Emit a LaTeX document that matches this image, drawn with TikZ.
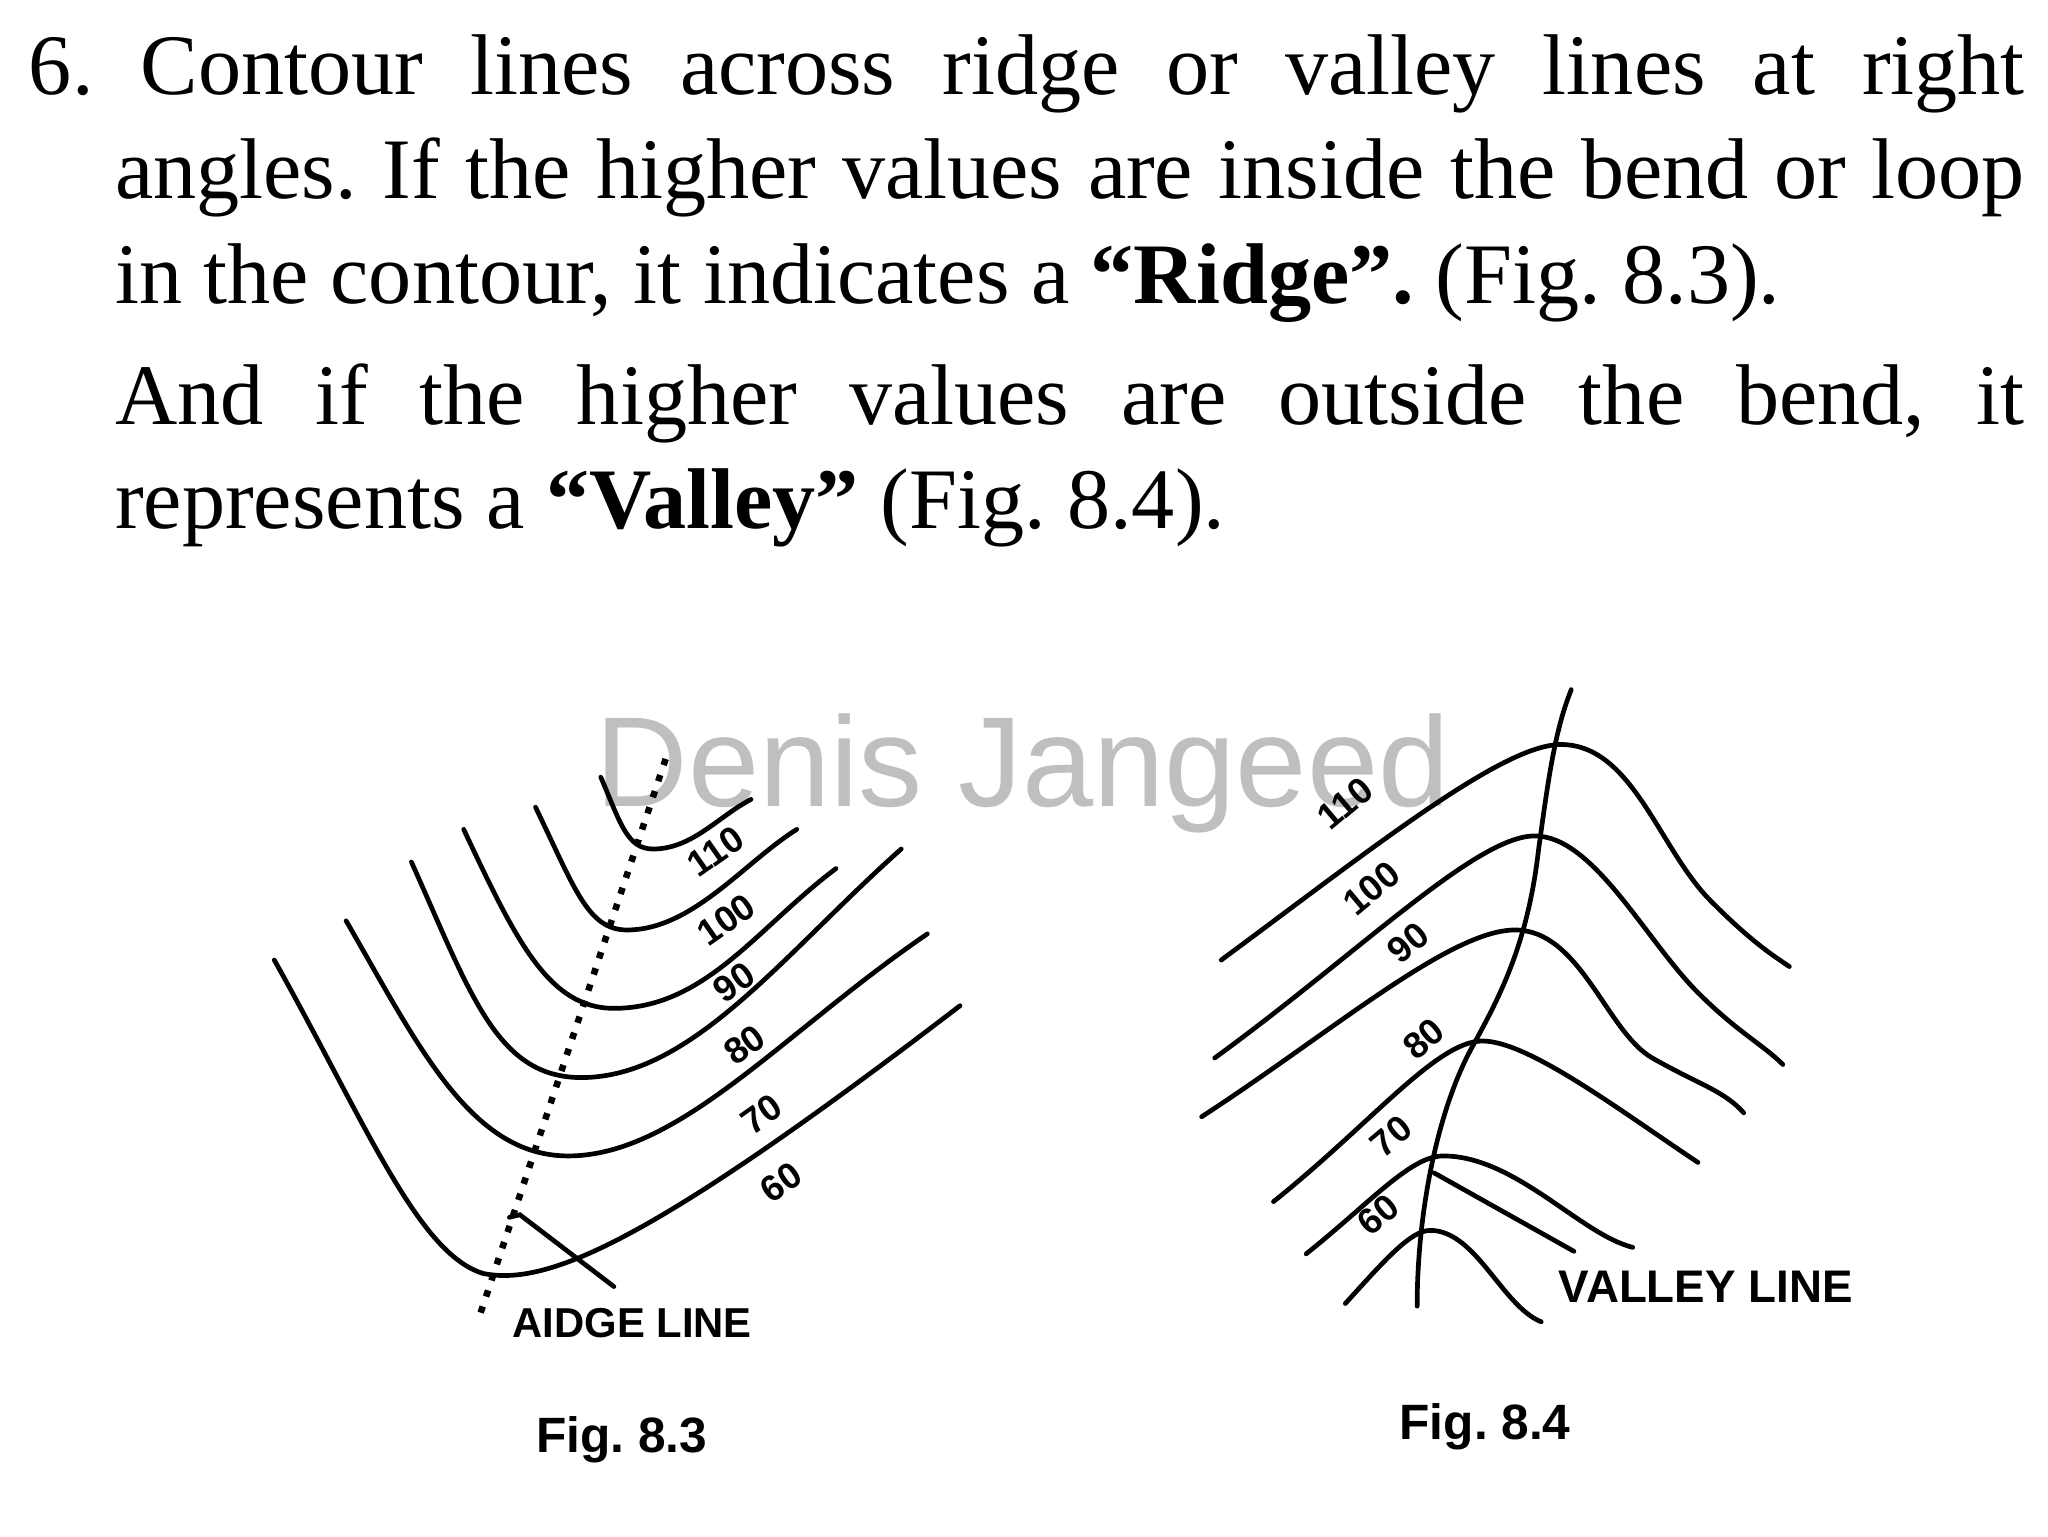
\documentclass[tikz,border=0pt]{standalone}
\usepackage{fontspec}
\setmainfont{Liberation Serif}
\setsansfont{Liberation Sans}
\frenchspacing
\begin{document}
\begin{tikzpicture}[x=1pt,y=-1pt,
  cl/.style={line width=3.6pt,line cap=round},
  lab/.style={font=\sffamily\bfseries\fontsize{28}{28}\selectfont,inner sep=0pt},
  tl/.style={anchor=base west,inner sep=0pt,font=\fontsize{66}{66}\selectfont}]
\useasboundingbox (0,0) rectangle (1568,1176);
% text
\node[tl] (l1) at (22,72) {\makebox[1528pt][s]{6. Contour lines across ridge or valley lines at right}};
\node[tl] (l2) at (88,152) {\makebox[1462pt][s]{angles. If the higher values are inside the bend or loop}};
\node[tl] (l3) at (88,232) {in the contour, it indicates a \textbf{“Ridge”.} (Fig. 8.3).};
\node[tl] (l4) at (88,325) {\makebox[1462pt][s]{And if the higher values are outside the bend, it}};
\node[tl] (l5) at (88,405) {represents a \textbf{“Valley”} (Fig. 8.4).};
% watermark
\node[font=\sffamily\fontsize{98}{98}\selectfont,text=black!25,inner sep=0pt] (wm) at (783,592) {Denis Jangeed};
% Fig 8.3
\draw[cl] (210,735) .. controls (280,860) and (320,960) .. (370,975) .. controls (420,985) and (500,950) .. (735,770);
\draw[cl] (265,705) .. controls (320,800) and (360,885) .. (435,885) .. controls (520,885) and (600,790) .. (710,715);
\draw[cl] (315,660) .. controls (360,760) and (380,825) .. (445,825) .. controls (530,825) and (600,730) .. (690,650);
\draw[cl] (355,635) .. controls (395,720) and (420,772) .. (470,772) .. controls (540,772) and (580,710) .. (640,665);
\draw[cl] (410,618) .. controls (440,680) and (450,712) .. (480,712) .. controls (530,712) and (570,660) .. (610,635);
\draw[cl] (460,595) .. controls (475,630) and (480,650) .. (500,650) .. controls (530,650) and (550,625) .. (575,612);
\draw[cl] (390,932) -- (398,930) -- (470,985);
\draw[line width=5pt,dash pattern=on 5pt off 8pt] (368,1005) -- (510,580);
\node[lab,font=\sffamily\bfseries\fontsize{32}{32}\selectfont] (rl) at (484,1013) {AIDGE LINE};
\node[lab,font=\sffamily\bfseries\fontsize{38}{38}\selectfont] (f3) at (476,1102) {Fig. 8.3};
\foreach \t/\x/\y in {110/548/652,100/556/704,90/562/752,80/570/800,70/583/853,60/598/905}
  \node[lab,rotate=35] at (\x,\y) {\t};
% Fig 8.4
\draw[cl] (1085,1000) .. controls (1085,930) and (1100,850) .. (1128,800) .. controls (1150,760) and (1170,720) .. (1178,650) .. controls (1185,600) and (1190,560) .. (1203,528);
\draw[cl] (935,735) .. controls (1050,650) and (1150,570) .. (1195,570) .. controls (1250,570) and (1270,650) .. (1310,690) .. controls (1340,720) and (1355,730) .. (1370,740);
\draw[cl] (930,810) .. controls (1040,730) and (1130,640) .. (1175,640) .. controls (1220,640) and (1260,720) .. (1300,760) .. controls (1330,790) and (1350,800) .. (1365,815);
\draw[cl] (920,855) .. controls (1020,790) and (1110,712) .. (1160,712) .. controls (1210,712) and (1230,790) .. (1265,810) .. controls (1300,830) and (1320,835) .. (1335,852);
\draw[cl] (975,920) .. controls (1050,860) and (1100,797) .. (1135,797) .. controls (1170,797) and (1240,850) .. (1300,890);
\draw[cl] (1000,960) .. controls (1050,920) and (1080,885) .. (1105,885) .. controls (1160,885) and (1210,945) .. (1250,955);
\draw[cl] (1098,898) -- (1205,958);
\draw[cl] (1030,998) .. controls (1060,965) and (1080,942) .. (1095,942) .. controls (1130,942) and (1150,1000) .. (1180,1012);
\node[lab,font=\sffamily\bfseries\fontsize{35}{35}\selectfont] (vl) at (1306,985) {VALLEY LINE};
\node[lab,font=\sffamily\bfseries\fontsize{38}{38}\selectfont] (f4) at (1137,1092) {Fig. 8.4};
\foreach \t/\x/\y in {110/1030/615,100/1050/680,90/1078/722,80/1090/795,70/1065/870,60/1055/930}
  \node[lab,rotate=40] at (\x,\y) {\t};
\end{tikzpicture}
\end{document}
